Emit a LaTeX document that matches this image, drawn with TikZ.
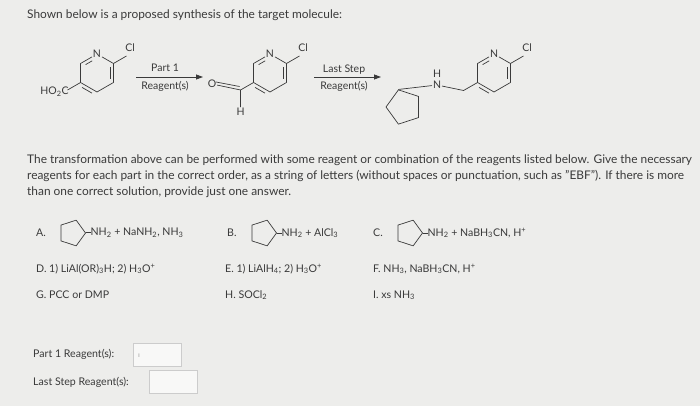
\documentclass[tikz,border=0pt]{standalone}
\usepackage{fontspec}
\setmainfont{Lato}
\usetikzlibrary{shapes.geometric,arrows.meta,calc}
\definecolor{bg}{HTML}{EDEDEB}
\definecolor{ink}{HTML}{3A3A3A}
\tikzset{
  txt/.style={anchor=base west,inner sep=0pt,text=ink,font=\fontsize{11.9}{14}\selectfont},
  opt/.style={anchor=base west,inner sep=0pt,text=ink,font=\fontsize{10.6}{13}\selectfont},
  lbl/.style={inner sep=0.8pt,text=ink,font=\fontsize{10.5}{12}\selectfont},
  albl/.style={inner sep=0.8pt,text=ink,font=\fontsize{10.5}{12}\selectfont},
  bond/.style={draw=ink,line width=0.7pt},
  pent/.style={regular polygon,regular polygon sides=5,shape border rotate=-90,draw=ink,line width=0.7pt,minimum size=27pt,inner sep=0pt},
  ansbox/.style={draw=gray!40,fill=white!60!bg,minimum width=48pt,minimum height=23pt,inner sep=0pt},
  rarrow/.style={draw=ink,line width=0.8pt,-{Triangle[length=7pt,width=5pt]}}
}
\newcommand\pyrring[3]{%
  \coordinate (#1c) at (#2,#3);
  \foreach \i/\a in {1/90,2/30,3/-30,4/-90,5/-150,6/150}{\coordinate (#1v\i) at ($(#1c)+({19*cos(\a)},{-19*sin(\a)})$);}
  \node[lbl] (#1N) at (#1v1) {N};
  \draw[bond] (#1N) -- (#1v2) -- (#1v3) -- (#1v4) -- (#1v5) -- (#1v6) -- (#1N);
  \draw[bond] ($(#1v2)!0.18!(#1v3)+(-3.5,0)$) -- ($(#1v3)!0.18!(#1v2)+(-3.5,0)$);
  \draw[bond] ($(#1v4)!0.2!(#1v5)!3.5pt!90:(#1v5)$) -- ($(#1v5)!0.2!(#1v4)!3.5pt!-90:(#1v4)$);
  \draw[bond] ($(#1v6)!0.2!(#1v1)!3.5pt!-90:(#1v1)$) -- ($(#1v1)!0.4!(#1v6)!3.5pt!90:(#1v6)$);
  \coordinate (#1cl) at ($(#1v2)+(13,-7.5)$);
  \node[lbl,anchor=south west] (#1Cl) at ($(#1cl)+(-2,-3)$) {Cl};
  \draw[bond] (#1v2) -- (#1cl);
}
\begin{document}
\begin{tikzpicture}[x=1pt,y=-1pt]
\useasboundingbox[fill=bg] (0,0) rectangle (700,406);
\node[txt] (title) at (27,19) {Shown below is a proposed synthesis of the target molecule:};
% molecule 1
\pyrring{a}{97}{73}
\coordinate (ac) at ($(av5)+(-13,7.5)$);
\node[lbl,anchor=east] (acooh) at ($(ac)+(2,2)$) {HO\textsubscript{2}C};
\draw[bond] (av5) -- (ac);
% arrow 1
\coordinate (a1s) at (136,77); \coordinate (a1e) at (203,77);
\draw[rarrow] (a1s) -- (a1e);
\node[albl] (p1) at (165,68) {Part 1};
\node[albl] (r1) at (165,86) {Reagent(s)};
% molecule 2
\pyrring{b}{270}{73}
\coordinate (bch) at ($(bv5)+(-13,7.5)$);
\node[lbl] (bO) at (212,84) {O};
\node[lbl] (bH) at ($(bch)+(0,22)$) {H};
\draw[bond] (bv5) -- (bch) -- (bH);
\draw[bond] (bch) -- (bO);
\draw[bond] ($(bch)+(-1,-3.5)$) -- ($(bO)+(4,-2)$);
% arrow 2
\coordinate (a2s) at (314,77); \coordinate (a2e) at (381,77);
\draw[rarrow] (a2s) -- (a2e);
\node[albl] (l2) at (344,70) {Last Step};
\node[albl] (r2) at (344,86) {Reagent(s)};
% molecule 3
\pyrring{c}{494}{73}
\node[lbl] (cN) at (437,85) {N};
\node[lbl] (cH) at (437,74) {H};
\coordinate (cch) at ($(cv5)+(-14,8)$);
\draw[bond] (cv5) -- (cch) -- (cN);
\node[regular polygon,regular polygon sides=5,draw=ink,line width=0.7pt,minimum size=36pt,inner sep=0pt,shape border rotate=18] (cp) at (404,107) {};
\draw[bond] (cp.corner 1) -- (cN);
% paragraph
\node[txt] (p1l) at (27,163) {The transformation above can be performed with some reagent or combination of the reagents listed below. Give the necessary};
\node[txt] (p2l) at (27,179) {reagents for each part in the correct order, as a string of letters (without spaces or punctuation, such as "EBF"). If there is more};
\node[txt] (p3l) at (27,195) {than one correct solution, provide just one answer.};
% options
\node[opt] (oA) at (36,236) {A.};
\node[pent] (pA) at (72,233) {};
\node[opt,anchor=west] (tA) at (pA.corner 1) {\kern-0.5pt\rule[2.8pt]{5pt}{0.7pt}NH\textsubscript{2} + NaNH\textsubscript{2}, NH\textsubscript{3}};
\node[opt] (oB) at (227,236) {B.};
\node[pent] (pB) at (263,233) {};
\node[opt,anchor=west] (tB) at (pB.corner 1) {\kern-0.5pt\rule[2.8pt]{5pt}{0.7pt}NH\textsubscript{2} + AlCl\textsubscript{3}};
\node[opt] (oC) at (373,236) {C.};
\node[pent] (pC) at (409,233) {};
\node[opt,anchor=west] (tC) at (pC.corner 1) {\kern-0.5pt\rule[2.8pt]{5pt}{0.7pt}NH\textsubscript{2} + NaBH\textsubscript{3}CN, H\textsuperscript{+}};
\node[opt] (oD) at (36,272) {D. 1) LiAl(OR)\textsubscript{3}H; 2) H\textsubscript{3}O\textsuperscript{+}};
\node[opt] (oE) at (225,272) {E. 1) LiAlH\textsubscript{4}; 2) H\textsubscript{3}O\textsuperscript{+}};
\node[opt] (oF) at (373,272) {F. NH\textsubscript{3}, NaBH\textsubscript{3}CN, H\textsuperscript{+}};
\node[opt] (oG) at (36,298) {G. PCC or DMP};
\node[opt] (oH) at (225,298) {H. SOCl\textsubscript{2}};
\node[opt] (oI) at (373,298) {I. xs NH\textsubscript{3}};
% answers
\node[opt] (q1) at (33,357) {Part 1 Reagent(s):};
\node[ansbox,anchor=west] (b1) at (133,355) {};
\node[text=gray,font=\tiny] (cur) at (139,356) {I};
\node[opt] (q2) at (33,385) {Last Step Reagent(s):};
\node[ansbox,anchor=west] (b2) at (149,382) {};
\end{tikzpicture}
\end{document}
